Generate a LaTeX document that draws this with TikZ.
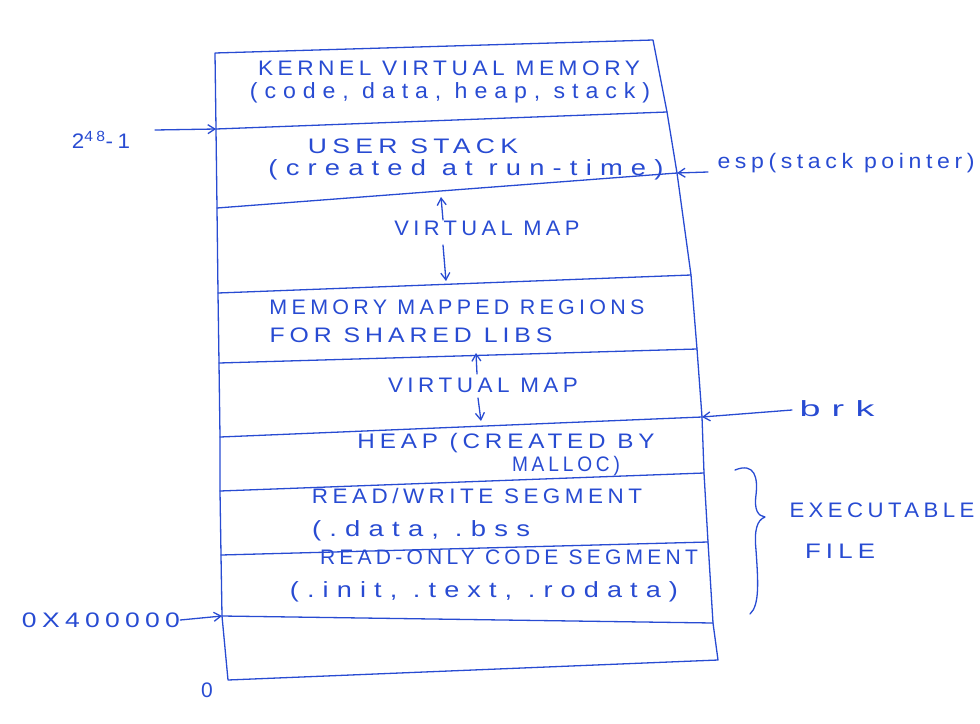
\documentclass[tikz,border=0pt]{standalone}
\usepackage{fontspec}
\usepackage{graphicx}
\setmainfont{Liberation Sans}
\newfontfamily\hand[LetterSpace=20]{Liberation Sans}
\newfontfamily\handwide[LetterSpace=30]{Liberation Sans}
\newcommand\fitw[2]{\resizebox{#1pt}{\height}{#2}}
\usetikzlibrary{arrows.meta}
\definecolor{ink}{RGB}{40,75,210}
\begin{document}
\begin{tikzpicture}[x=1pt,y=-1pt,
  ink line/.style={draw=ink,line width=1.3pt,line cap=round,line join=round},
  arr/.style={ink line,-{Straight Barb[length=7pt,width=9pt]}},
  lbl/.style={text=ink,font=\hand\fontsize{21}{23}\selectfont,inner sep=0pt},
  wlbl/.style={text=ink,font=\handwide\fontsize{22}{24}\selectfont,inner sep=0pt},
  side/.style={text=ink,font=\hand\fontsize{21}{23}\selectfont,inner sep=0pt}]
\useasboundingbox (0,0) rectangle (980,723);
% box corners
\coordinate (L0) at (215,53);  \coordinate (R0) at (653,40);
\coordinate (L1) at (216,129); \coordinate (R1) at (667,112);
\coordinate (L2) at (217,208); \coordinate (R2) at (677,173);
\coordinate (L3) at (218,293); \coordinate (R3) at (691,275);
\coordinate (L4) at (219,363); \coordinate (R4) at (697,349);
\coordinate (L5) at (220,437); \coordinate (R5) at (702,417);
\coordinate (L6) at (220,491); \coordinate (R6) at (704,473);
\coordinate (L7) at (221,555); \coordinate (R7) at (708,542);
\coordinate (L8) at (222,616); \coordinate (R8) at (713,623);
\coordinate (L9) at (228,680); \coordinate (R9) at (718,660);
% outline
\draw[ink line] (L0) -- (L1) -- (L2) -- (L3) -- (L4) -- (L5) -- (L6) -- (L7) -- (L8) -- (L9) -- (R9)
  -- (R8) -- (R7) -- (R6) -- (R5) -- (R4) -- (R3) -- (R2) -- (R1) -- (R0) -- cycle;
\foreach \i in {1,...,8} {\draw[ink line] (L\i) -- (R\i);}
% texts in the box
\node[lbl] (k1) at (449,68) {\fitw{382}{KERNEL VIRTUAL MEMORY}};
\node[wlbl] (k2) at (450,93) {\fitw{400}{(code, data, heap, stack)}};
\node[lbl] (u1) at (413,146) {\fitw{210}{USER STACK}};
\node[wlbl] (u2) at (466,170) {\fitw{395}{(created at run-time)}};
\node[lbl] (v1) at (487,228) {\fitw{185}{VIRTUAL MAP}};
\node[lbl] (m1) at (457,307) {\fitw{375}{MEMORY MAPPED REGIONS}};
\node[lbl] (m2) at (411,335) {\fitw{283}{FOR SHARED LIBS}};
\node[lbl] (v2) at (483,385) {\fitw{190}{VIRTUAL MAP}};
\node[lbl] (h1) at (506,443) {\fitw{297}{HEAP (CREATED BY}};
\node[lbl] (h2) at (566,466) {\fitw{108}{MALLOC)}};
\node[lbl] (r1) at (477,496) {\fitw{330}{READ/WRITE SEGMENT}};
\node[wlbl] (r2) at (421,531) {\fitw{218}{(.data, .bss}};
\node[lbl] (o1) at (509,557) {\fitw{378}{READ-ONLY CODE SEGMENT}};
\node[wlbl] (o2) at (484,592) {\fitw{388}{(.init, .text, .rodata)}};
% gap arrows
\coordinate (g1a) at (443,220); \coordinate (g1b) at (441,197);
\coordinate (g1c) at (443,245); \coordinate (g1d) at (446,281);
\draw[arr] (g1a) -- (g1b);
\draw[arr] (g1c) -- (g1d);
\coordinate (g2a) at (477,374); \coordinate (g2b) at (476,353);
\coordinate (g2c) at (478,398); \coordinate (g2d) at (481,421);
\draw[arr] (g2a) -- (g2b);
\draw[arr] (g2c) -- (g2d);
% outside labels
\node[side] (top) at (101,140) {\fitw{58}{2\textsuperscript{48}-1}};
\coordinate (topa) at (155,130);
\draw[arr] (topa) -- (L1);
\node[side] (esp) at (846,163) {\fitw{257}{esp(stack pointer)}};
\coordinate (espa) at (708,172);
\draw[arr] (espa) -- (R2);
\node[wlbl] (brk) at (837,409) {\fitw{75}{brk}};
\coordinate (brka) at (792,410);
\draw[arr] (brka) -- (R5);
\node[side] (hex) at (101,620) {\fitw{158}{0X400000}};
\draw[arr] (hex.east) -- (L8);
\node[side] (zero) at (207,690) {0};
% executable file brace
\coordinate (bt) at (735,470); \coordinate (bb) at (750,614);
\draw[ink line] (bt) .. controls (755,462) and (758,478) .. (756,495)
  .. controls (754,510) and (758,516) .. (765,517)
  .. controls (757,520) and (754,530) .. (756,550)
  .. controls (758,580) and (760,605) .. (bb);
\node[side] (ex1) at (882,510) {\fitw{185}{EXECUTABLE}};
\node[side] (ex2) at (840,551) {\fitw{70}{FILE}};
\end{tikzpicture}
\end{document}
